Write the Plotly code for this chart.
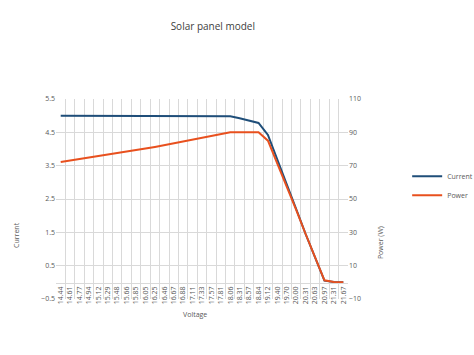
import plotly.graph_objects as go

voltage = ["14.44", "14.61", "14.77", "14.94", "15.12", "15.29", "15.48", "15.66",
           "15.85", "16.05", "16.25", "16.46", "16.67", "16.88", "17.11", "17.33",
           "17.57", "17.81", "18.06", "18.31", "18.57", "18.84", "19.12", "19.40",
           "19.70", "20.00", "20.31", "20.63", "20.97", "21.31", "21.67"]

current = [5.0, 5.0, 5.0, 5.0, 5.0, 5.0, 5.0, 5.0, 5.0, 5.0, 5.0, 5.0, 5.0, 5.0,
           5.0, 5.0, 5.0, 5.0, 4.98, 4.92, 4.85, 4.78, 4.42, 3.70, 2.95, 2.20,
           1.45, 0.72, 0.05, 0.01, 0.0]

power = [72.2, 73.05, 73.85, 74.7, 75.6, 76.45, 77.4, 78.3, 79.25, 80.25, 81.25,
         82.3, 83.35, 84.4, 85.55, 86.65, 87.85, 89.05, 90.0, 90.0, 90.0, 90.0,
         85.0, 71.5, 57.5, 43.5, 29.0, 14.5, 1.2, 0.2, 0.0]

FONT = "Open Sans"
TXT = "#595959"
GRID = "#D9D9D9"

fig = go.Figure()
fig.add_trace(go.Scatter(x=voltage, y=current, name="Current", mode="lines",
                         line=dict(color="#1F4E79", width=2), yaxis="y"))
fig.add_trace(go.Scatter(x=voltage, y=power, name="Power", mode="lines",
                         line=dict(color="#E8501E", width=2), yaxis="y2"))

fig.update_layout(
    width=474, height=355,
    margin=dict(l=56, r=126, t=99, b=56, autoexpand=False),
    paper_bgcolor="white", plot_bgcolor="white",
    font=dict(family=FONT, size=7, color=TXT),
    title=dict(text="Solar panel model", x=0.449, xanchor="center",
               y=0.925, yanchor="middle", font=dict(size=10, color="#404040")),
    xaxis=dict(type="category", range=[-0.5, 30.5], tickson="boundaries",
               anchor="free", position=0.082, automargin=False,
               showgrid=True, gridcolor=GRID, gridwidth=1, ticks="",
               tickangle=-90, showline=True, linecolor=GRID, linewidth=1,
               tickfont=dict(size=7, color=TXT), zeroline=False),
    yaxis=dict(range=[-0.5, 5.5], tick0=-0.5, dtick=1, showgrid=True,
               gridcolor=GRID, zeroline=False, automargin=False,
               showline=False, ticks="", tickfont=dict(size=7, color=TXT)),
    yaxis2=dict(range=[-10, 110], tick0=-10, dtick=20, overlaying="y", side="right",
                showgrid=False, zeroline=False, showline=False, ticks="",
                automargin=False, tickfont=dict(size=7, color=TXT)),
    legend=dict(xref="container", yref="container", x=0.859, xanchor="left",
                y=0.477, yanchor="middle",
                font=dict(size=7, color=TXT), bgcolor="rgba(0,0,0,0)",
                tracegroupgap=0, itemwidth=30),
    showlegend=True,
    annotations=[
        dict(text="Current", xref="paper", yref="paper", x=-0.137, y=0.32,
             xanchor="center", yanchor="middle",
             showarrow=False, textangle=-90, font=dict(size=7, color=TXT)),
        dict(text="Power (W)", xref="paper", yref="paper", x=1.11, y=0.28,
             xanchor="center", yanchor="middle",
             showarrow=False, textangle=-90, font=dict(size=7, color=TXT)),
        dict(text="Voltage", xref="paper", yref="paper", x=0.476, y=-0.075,
             xanchor="center", yanchor="middle",
             showarrow=False, font=dict(size=7, color=TXT)),
    ],
)

fig.write_html("out.html", config={"displayModeBar": False},
               post_script="document.body.style.margin='0';")
